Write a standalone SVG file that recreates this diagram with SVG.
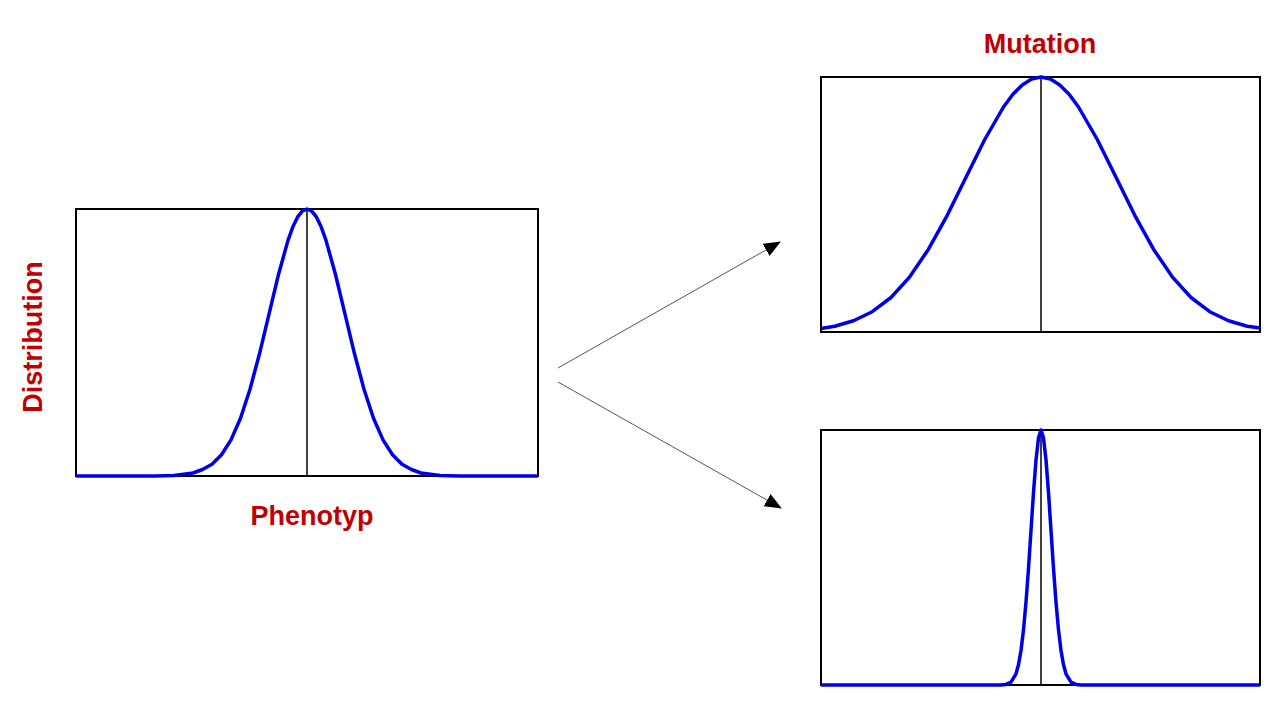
<svg xmlns="http://www.w3.org/2000/svg" width="1280" height="720" viewBox="0 0 1280 720">
<style>
.box{fill:none;stroke:#000;stroke-width:2}
.curve{fill:none;stroke:#0000e6;stroke-width:3.5;stroke-linejoin:round}
.axis{stroke:#000;stroke-width:1.5}
.lbl{font-family:"Liberation Sans",Arial,sans-serif;font-weight:bold;font-size:27px;fill:#c00000;text-anchor:middle}
.conn{stroke:#555;stroke-width:1;fill:none}
</style>
<defs><marker id="ah2" markerWidth="17" markerHeight="14" refX="16" refY="7" orient="auto" markerUnits="userSpaceOnUse" viewBox="0 0 17 14"><path d="M0,0 L17,7 L0,14 z" fill="#000"/></marker></defs>
<rect width="1280" height="720" fill="#fff"/>
<g id="left">
<rect class="box" x="76" y="209" width="462" height="267"/>
<line class="axis" x1="307" y1="209" x2="307" y2="476"/>
<polyline class="curve" points="76,476 155,476 174,475.4 193,473 202.5,469.5 212,464.3 221.5,454.7 231,439.9 240.5,418.2 250,389.3 259.5,353.8 269,314.1 278.5,274.5 288,240.4 292.75,227.1 297.5,217.2 302.25,211.1 307,209 311.75,211.1 316.5,217.2 321.25,227.1 326,240.4 335.5,274.5 345,314.1 354.5,353.8 364,389.3 373.5,418.2 383,439.9 392.5,454.7 402,464.3 411.5,469.5 421,473 440,475.4 459,476 538,476"/>
<text class="lbl" x="312" y="525">Phenotyp</text>
<text class="lbl" x="0" y="0" transform="translate(42,337) rotate(-90)">Distribution</text>
</g>
<g id="top">
<rect class="box" x="821" y="77" width="439" height="255"/>
<line class="axis" x1="1041" y1="77" x2="1041" y2="332"/>
<polyline class="curve" points="821,328.5 834.75,326.2 853.5,320.8 872.25,311.7 891,297.5 909.75,276.8 928.5,249.2 947.25,215.3 966,177.3 984.75,139.5 1003.5,107 1012.9,94.3 1022.25,84.9 1031.6,79 1041,77 1050.4,79 1059.75,84.9 1069.1,94.3 1078.5,107 1097.25,139.5 1116,177.3 1134.75,215.3 1153.5,249.2 1172.25,276.8 1191,297.5 1209.75,311.7 1228.5,320.8 1247.25,326.2 1260,328"/>
<text class="lbl" x="1040" y="53">Mutation</text>
</g>
<g id="bottom">
<rect class="box" x="821" y="430" width="439" height="255"/>
<line class="axis" x1="1041" y1="430" x2="1041" y2="685"/>
<polyline class="curve" points="821,685 1001,685 1006,684.4 1011,682.2 1016,673.8 1018.5,664.7 1021,650.5 1023.5,629.8 1026,602.2 1028.5,568.3 1031,530.3 1033.5,492.5 1036,460 1038.5,437.9 1041,430 1043.5,437.9 1046,460 1048.5,492.5 1051,530.3 1053.5,568.3 1056,602.2 1058.5,629.8 1061,650.5 1063.5,664.7 1066,673.8 1071,682.2 1076,684.4 1081,685 1260,685"/>
</g>
<g id="connectors">
<line class="conn" x1="558" y1="368" x2="780" y2="242" marker-end="url(#ah2)"/>
<line class="conn" x1="558" y1="382" x2="781" y2="508" marker-end="url(#ah2)"/>
</g>
</svg>
